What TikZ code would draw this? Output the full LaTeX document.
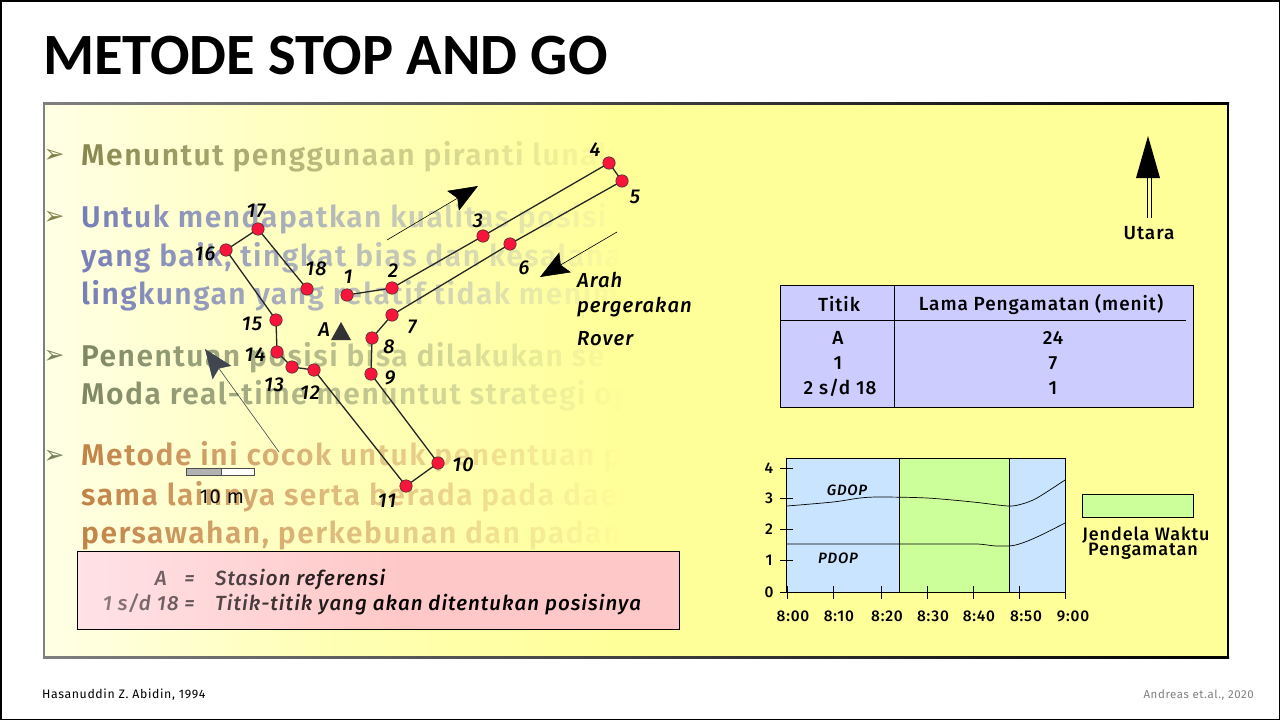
\documentclass[tikz,border=0pt]{standalone}
\usepackage{fontspec}
\setmainfont{Fira Sans}[LetterSpace=5, BoldFont=Fira Sans Medium, BoldItalicFont=Fira Sans Medium Italic]
\newfontfamily\tebalfont{Fira Sans SemiBold}[LetterSpace=5]
\newfontfamily\judulfont{Carlito}
\newfontfamily\simbolfont{DejaVu Sans}
\usetikzlibrary{arrows.meta,fadings}
\definecolor{latar}{HTML}{FFFF99}
\definecolor{latarmuda}{HTML}{FFFFE6}
\definecolor{teksolive}{HTML}{7F7F45}
\definecolor{teksbiru}{HTML}{6D76B4}
\definecolor{teksabu}{HTML}{75805A}
\definecolor{teksjingga}{HTML}{BE7A3C}
\definecolor{biruungu}{HTML}{CCCCFF}
\definecolor{birumuda}{HTML}{C8E4FF}
\definecolor{hijaumuda}{HTML}{CCFF99}
\definecolor{merahtitik}{HTML}{F8153C}
\definecolor{merahmuda}{HTML}{FFE2E6}
\definecolor{merahtua}{HTML}{FFC8C8}
\definecolor{kepala}{HTML}{3F4650}
\tikzfading[name=pudar, left color=transparent!100, right color=transparent!0]
\tikzfading[name=pudarbalik, left color=transparent!40, right color=transparent!100]
\tikzset{
  x=1pt, y=-1pt,
  baris/.style={anchor=base west, inner sep=0, font=\tebalfont\fontsize{30}{30}\selectfont},
  panah/.style={anchor=center, inner sep=0, font=\simbolfont\fontsize{25}{25}\selectfont},
  stasiun/.style={circle, draw=black!80, line width=0.5pt, fill=merahtitik, minimum size=12.5pt, inner sep=0},
  nomor/.style={inner sep=0, font=\fontsize{20}{20}\selectfont\itshape\bfseries},
  arah/.style={line width=0.6pt, -{Stealth[length=29pt,width=23pt,inset=5pt]}},
  rover/.style={anchor=base west, inner sep=0, font=\fontsize{20.3}{20.3}\selectfont\itshape\bfseries},
  ket/.style={inner sep=0, font=\fontsize{20.5}{20.5}\selectfont\itshape\bfseries},
  isi/.style={inner sep=0, font=\fontsize{19}{19}\selectfont\bfseries},
  sumbu/.style={inner sep=0, font=\fontsize{15.5}{15.5}\selectfont\bfseries}
}
\begin{document}
\begin{tikzpicture}
% halaman
\useasboundingbox (0,0) rectangle (1280,720);
\draw[line width=3pt, fill=white] (0,0) rectangle (1280,720);
\node[anchor=base west, inner sep=0, font=\judulfont\fontsize{58.5}{58.5}\selectfont\bfseries] (judul) at (43,74) {METODE STOP AND GO};
% panel
\shade[left color=latarmuda, right color=latar, middle color=latar!65!latarmuda] (44,103) rectangle (625,657);
\fill[latar] (625,103) rectangle (1228,657);
% butir teks
\foreach \i/\y/\warna/\teks in {
  a/165/teksolive/Menuntut penggunaan piranti lunak,
  b/227/teksbiru/Untuk mendapatkan kualitas posisi,
  c/266/teksbiru/{yang baik, tingkat  bias dan kesalahan},
  d/304/teksbiru/lingkungan yang relatif tidak menim,
  e/366/teksabu/Penentuan posisi bisa dilakukan se,
  f/404/teksabu/Moda real-time menuntut strategi op,
  g/465/teksjingga/Metode ini cocok untuk penentuan p,
  h/505/teksjingga/sama lainnya serta berada pada daer,
  i/543/teksjingga/{persawahan, perkebunan dan padang}} {
  \node[baris, text=\warna] (baris\i) at (81,\y) {\teks};
}
\foreach \i/\y/\warna in {a/156/teksolive, b/218/teksolive, c/357/teksabu, d/457/teksabu} {
  \node[panah, text=\warna] (panah\i) at (54,\y) {➢};
}
% teks memudar ke kanan
\shade[left color=latarmuda, right color=latar, path fading=pudar] (46,105) rectangle (625,551);
\fill[latar] (625,105) rectangle (645,551);
\fill[gray] (43,102) rectangle (45,658);
\shade[left color=gray, middle color=black, right color=black] (43,102) rectangle (1229,104);
\shade[left color=gray, middle color=black, right color=black] (43,656) rectangle (1229,658);
\fill[black] (1227,102) rectangle (1229,658);
% jaringan titik
\foreach \n/\x/\y in {1/347/295, 2/392/288, 3/483/236, 4/609/163, 5/622/181, 6/510/244, 7/392/315, 8/372/338, 9/371/374, 10/438/463, 11/406/486, 12/314/370, 13/292/367, 14/277/352, 15/276/320, 16/226/250, 17/258/229, 18/307/289} {
  \coordinate (p\n) at (\x,\y);
}
\foreach \a/\b in {1/2, 2/3, 3/4, 4/5, 5/6, 6/7, 7/8, 8/9, 9/10, 10/11, 11/12, 12/13, 13/14, 14/15, 15/16, 16/17, 17/18} {
  \draw[line width=1.3pt, black!85] (p\a) -- (p\b);
}
\foreach \n in {1,...,18} {
  \node[stasiun] (t\n) at (p\n) {};
}
\foreach \n/\x/\y in {1/348/277, 2/393/271, 3/478/221, 4/595/150, 5/635/197, 6/524/268, 7/412/327, 8/389/347, 9/390/378, 10/463/465, 11/387/501, 12/310/393, 13/274/385, 14/255/355, 15/252/324, 16/205/254, 17/256/211, 18/316/269} {
  \node[nomor] (l\n) at (\x,\y) {\n};
}
% stasiun referensi
\fill[black!80] (331,340) -- (341,322) -- (351,340) -- cycle;
\node[nomor] (lA) at (324,330) {A};
% arah pergerakan
\coordinate (arah1a) at (387,240);
\coordinate (arah1b) at (478,186);
\coordinate (arah2a) at (617,232);
\coordinate (arah2b) at (540,277);
\coordinate (arah3a) at (279,452);
\coordinate (arah3b) at (205,349);
\draw[arah] (arah1a) -- (arah1b);
\draw[arah] (arah2a) -- (arah2b);
\draw[arah, kepala] (arah3a) -- (arah3b);
\node[rover] (arahA) at (577,287) {Arah};
\node[rover] (arahB) at (577,312) {pergerakan};
\node[rover] (arahC) at (577,345) {Rover};
% skala
\draw[black!70, fill=gray!60] (186,468) rectangle (221,475);
\draw[black!70, fill=white] (221,468) rectangle (254,475);
\node[inner sep=0, font=\fontsize{20}{20}\selectfont] (skala) at (222,497) {10 m};
% keterangan
\shade[left color=merahmuda, right color=merahtua] (77,551) rectangle (400,629);
\fill[merahtua] (400,551) rectangle (679,629);
\node[ket, anchor=base east] (ketA) at (195,585) {A \ \ =};
\node[ket, anchor=base east] (ketB) at (195,610) {1 s/d 18 =};
\node[ket, anchor=base west] (ketC) at (215,585) {Stasion referensi};
\node[ket, anchor=base west] (ketD) at (215,610) {Titik-titik yang akan ditentukan posisinya};
\shade[left color=merahmuda, right color=merahtua, path fading=pudarbalik] (77,551) rectangle (400,629);
\draw[line width=0.8pt] (77,551) rectangle (679,629);
% utara
\fill[black] (1136,178) -- (1148,136) -- (1160,178) -- cycle;
\draw (1147,178) -- (1147,218) (1151,178) -- (1151,218);
\node[isi] (utara) at (1149,233) {Utara};
% tabel
\draw[fill=biruungu, line width=0.8pt] (780,285) rectangle (1193,407);
\draw[line width=0.8pt] (894,285) -- (894,408);
\draw[line width=0.8pt] (780,320) -- (1186,320);
\foreach \i/\x/\y/\teks in {a/839/304/Titik, b/1041/304/Lama Pengamatan (menit), c/838/338/A, d/1053/338/24, e/838/363/1, f/1053/363/7, g/840/388/{2 s/d 18}, h/1053/388/1} {
  \node[isi] (sel\i) at (\x,\y) {\teks};
}
% grafik
\fill[birumuda] (786,458) rectangle (1065,592);
\fill[hijaumuda] (899,458) rectangle (1009,592);
\draw[line width=0.8pt] (786,458) rectangle (1065,592);
\draw[line width=0.8pt] (899,458) -- (899,592) (1009,458) -- (1009,592);
\foreach \i/\y in {4/468, 3/498, 2/529, 1/560, 0/592} {
  \draw[line width=0.7pt] (780,\y) -- (793,\y);
  \node[sumbu] (y\i) at (769,\y) {\i};
}
\foreach \i/\x/\lx/\teks in {a/787/793/8:00, b/833/839/8:10, c/881/887/8:20, d/927/933/8:30, e/973/979/8:40, f/1019/1026/8:50, g/1065/1073/9:00} {
  \draw[line width=0.7pt] (\x,586) -- (\x,599);
  \node[sumbu] (x\i) at (\lx,616) {\teks};
}
\draw[line width=0.7pt] plot[smooth] coordinates {(787,506) (833,502) (860,498) (880,497) (927,498) (973,502) (1008,506) (1022,504) (1037,498) (1065,480)};
\draw[line width=0.7pt] (787,544) -- (975,544) .. controls (985,544) and (990,546) .. (998,546) -- (1008,546) .. controls (1020,546) and (1040,536) .. (1065,523);
\node[inner sep=0, font=\fontsize{15}{15}\selectfont\itshape\bfseries] (gdop) at (847,490) {GDOP};
\node[inner sep=0, font=\fontsize{15}{15}\selectfont\itshape\bfseries] (pdop) at (838,558) {PDOP};
% legenda
\draw[fill=hijaumuda, line width=0.8pt] (1082,494) rectangle (1193,517);
\node[isi, font=\fontsize{18}{18}\selectfont\bfseries] (jendela) at (1146,535) {Jendela Waktu};
\node[isi, font=\fontsize{18}{18}\selectfont\bfseries] (amatan) at (1143,551) {Pengamatan};
% sumber
\node[anchor=base west, inner sep=0, font=\fontsize{12.3}{12.3}\selectfont] (sumberA) at (42,698) {Hasanuddin Z. Abidin, 1994};
\node[anchor=base east, inner sep=0, text=gray, font=\fontsize{11.5}{11.5}\selectfont] (sumberB) at (1254,698) {Andreas et.al., 2020};
\end{tikzpicture}
\end{document}
